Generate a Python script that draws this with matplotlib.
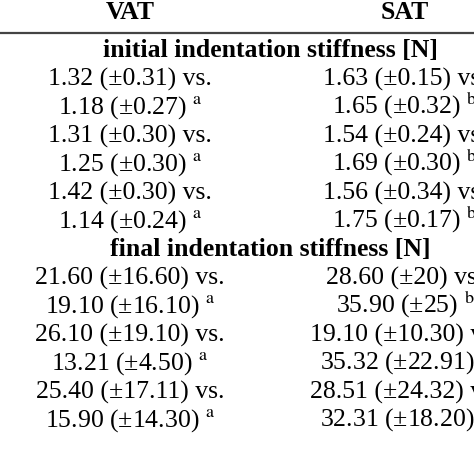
import matplotlib
matplotlib.use("Agg")
import matplotlib.pyplot as plt

plt.rcParams['font.family'] = ['Liberation Serif', 'DejaVu Serif']
plt.rcParams['mathtext.fontset'] = 'stix'

headers = ["VAT", "SAT"]
sections = ["initial indentation stiffness [N]", "final indentation stiffness [N]"]
vat_initial = ["1.32 (±0.31) vs.", "1.18 (±0.27) $^{\\mathrm{a}}$", "1.31 (±0.30) vs.",
               "1.25 (±0.30) $^{\\mathrm{a}}$", "1.42 (±0.30) vs.", "1.14 (±0.24) $^{\\mathrm{a}}$"]
sat_initial = ["1.63 (±0.15) vs.", "1.65 (±0.32) $^{\\mathrm{b}}$", "1.54 (±0.24) vs.",
               "1.69 (±0.30) $^{\\mathrm{b}}$", "1.56 (±0.34) vs.", "1.75 (±0.17) $^{\\mathrm{b}}$"]
vat_final = ["21.60 (±16.60) vs.", "19.10 (±16.10) $^{\\mathrm{a}}$", "26.10 (±19.10) vs.",
             "13.21 (±4.50) $^{\\mathrm{a}}$", "25.40 (±17.11) vs.", "15.90 (±14.30) $^{\\mathrm{a}}$"]
sat_final = ["28.60 (±20) vs.", "35.90 (±25) $^{\\mathrm{b}}$", "19.10 (±10.30) vs.",
             "35.32 (±22.91) $^{\\mathrm{b}}$", "28.51 (±24.32) vs.", "32.31 (±18.20) $^{\\mathrm{b}}$"]

fig = plt.figure(figsize=(4.74, 4.74), dpi=100)
ax = fig.add_axes([0, 0, 1, 1])
ax.set_xlim(0, 474)
ax.set_ylim(474, 0)
ax.axis('off')

fs = 18.5
xv, xs = 130, 405
ax.text(xv, 19, headers[0], ha='center', va='baseline', fontsize=fs, fontweight='bold')
ax.text(xs, 19, headers[1], ha='center', va='baseline', fontsize=fs, fontweight='bold')
ax.plot([0, 474], [32.5, 32.5], color='#444444', lw=1.6)

def block(y0, title, vat, sat):
    ax.text(270, y0 + 7, title, ha='center', va='baseline', fontsize=fs, fontweight='bold')
    for i, (a, b) in enumerate(zip(vat, sat)):
        y = y0 + 28.5 * (i + 1) + 7
        ax.text(xv, y, a, ha='center', va='baseline', fontsize=fs)
        ax.text(xs, y, b, ha='center', va='baseline', fontsize=fs)

block(50, sections[0], vat_initial, sat_initial)
block(249, sections[1], vat_final, sat_final)

fig.savefig("out.png", dpi=100)
